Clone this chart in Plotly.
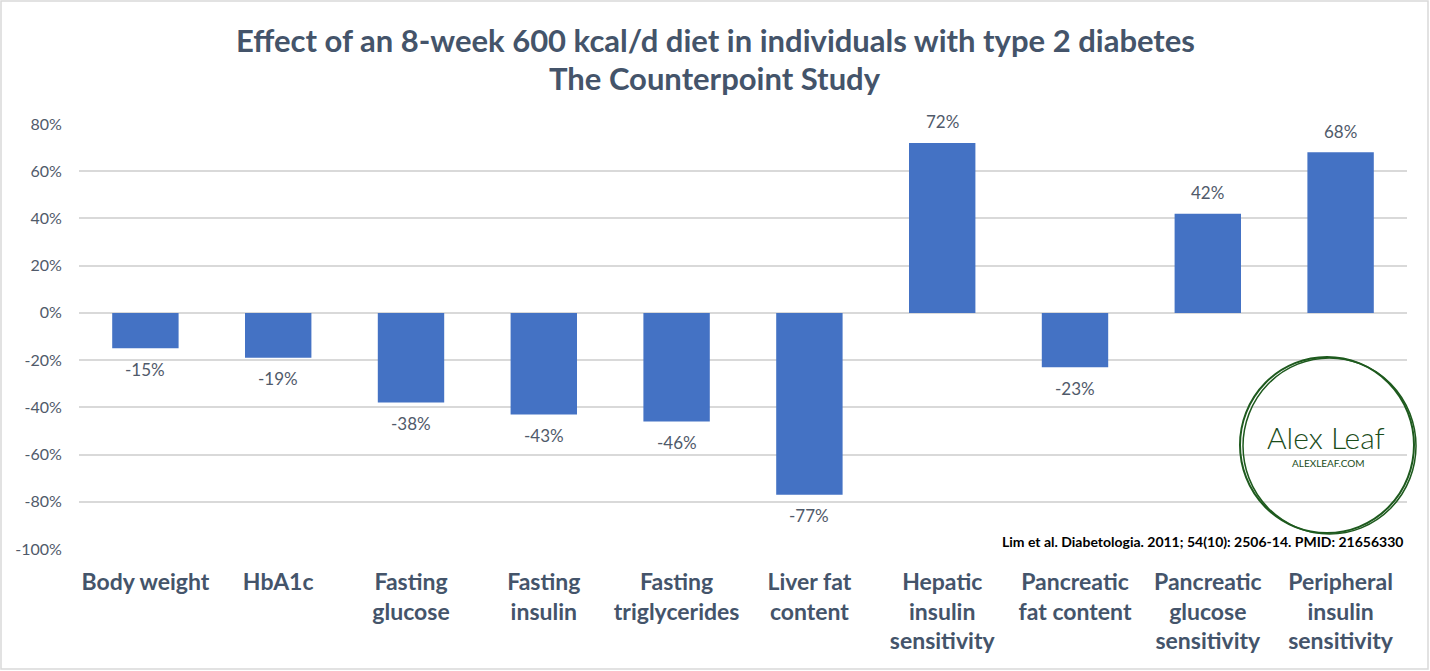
import plotly.graph_objects as go

categories = ["Body weight", "HbA1c", "Fasting<br>glucose", "Fasting<br>insulin",
              "Fasting<br>triglycerides", "Liver fat<br>content", "Hepatic<br>insulin<br>sensitivity",
              "Pancreatic<br>fat content", "Pancreatic<br>glucose<br>sensitivity",
              "Peripheral<br>insulin<br>sensitivity"]
values = [-15, -19, -38, -43, -46, -77, 72, -23, 42, 68]
ytick_vals = [-100, -80, -60, -40, -20, 0, 20, 40, 60, 80]
ytick_text = [f"{v}%" for v in ytick_vals]

title_lines = ["Effect of an 8-week 600 kcal/d diet in individuals with type 2 diabetes",
               "The Counterpoint Study"]
citation = "Lim et al. Diabetologia. 2011; 54(10): 2506-14. PMID: 21656330"

W, H = 1430, 671
L, R, T, B = 79, 23, 124, 122
pw, ph = W - L - R, H - T - B

def px2paper(x, y):
    return (x - L) / pw, (H - B - y) / ph

fig = go.Figure()
fig.add_trace(go.Bar(
    x=categories, y=values, width=0.5,
    marker=dict(color="#4472C4", line=dict(width=0)),
    hoverinfo="skip",
))

annotations = []
for c, v in zip(categories, values):
    annotations.append(dict(x=c, y=v, xref="x", yref="y", text=f"{v}%", showarrow=False,
                            yshift=21 if v > 0 else -21,
                            font=dict(family="Lato", size=17, color="#505A6A")))

for i, line in enumerate(title_lines):
    lx, ly = px2paper(715, 40 + 38 * i)
    annotations.append(dict(x=lx, y=ly, xref="paper", yref="paper", text=line, showarrow=False,
                            xanchor="center", yanchor="middle",
                            font=dict(family="Lato", size=31, color="#44546A", weight="bold")))

x0, y0 = px2paper(1, 669)
x1, y1 = px2paper(1428, 1)
shapes = [dict(type="rect", xref="paper", yref="paper", x0=x0, y0=y0, x1=x1, y1=y1,
               line=dict(color="#D9D9D9", width=1.5), fillcolor="rgba(0,0,0,0)", layer="below")]

cx0, cy0 = px2paper(1240, 357)
cx1, cy1 = px2paper(1414, 533)
shapes.append(dict(type="circle", xref="paper", yref="paper", x0=cx0, y0=cy1, x1=cx1, y1=cy0,
                   line=dict(color="#1E5A1E", width=2)))
dx0, dy0 = px2paper(1243, 358)
dx1, dy1 = px2paper(1416, 534)
shapes.append(dict(type="circle", xref="paper", yref="paper", x0=dx0, y0=dy1, x1=dx1, y1=dy0,
                   line=dict(color="#1E5A1E", width=1.5)))

ax, ay = px2paper(1326, 437)
annotations.append(dict(x=ax, y=ay, xref="paper", yref="paper", text="Alex Leaf", showarrow=False,
                        xanchor="center", yanchor="middle",
                        font=dict(family="Lato", size=30, color="#1B4D1B", weight=300)))
bx, by = px2paper(1328, 463)
annotations.append(dict(x=bx, y=by, xref="paper", yref="paper", text="ALEXLEAF.COM", showarrow=False,
                        xanchor="center", yanchor="middle",
                        font=dict(family="Lato", size=10, color="#1B4D1B")))
tx, ty = px2paper(1405, 541)
annotations.append(dict(x=tx, y=ty, xref="paper", yref="paper", text=citation, showarrow=False,
                        xanchor="right", yanchor="middle",
                        font=dict(family="Lato", size=14, color="#000000", weight="bold")))

fig.update_layout(
    width=W, height=H,
    margin=dict(l=L, r=R, t=T, b=B),
    paper_bgcolor="white", plot_bgcolor="white",
    showlegend=False,
    xaxis=dict(showgrid=False, showline=False, zeroline=False, ticks="outside", ticklen=12,
               tickcolor="rgba(0,0,0,0)",
               tickfont=dict(family="Lato", size=23, color="#44546A", weight="bold")),
    yaxis=dict(range=[-100, 80], tickvals=ytick_vals, ticktext=ytick_text,
               showgrid=True, gridcolor="#D9D9D9", gridwidth=2, zeroline=True,
               zerolinecolor="#D9D9D9", zerolinewidth=2, showline=False,
               ticks="outside", ticklen=13, tickcolor="rgba(0,0,0,0)",
               tickfont=dict(family="Lato", size=16, color="#505A6A")),
    annotations=annotations, shapes=shapes,
)

fig.write_html("out.html")
